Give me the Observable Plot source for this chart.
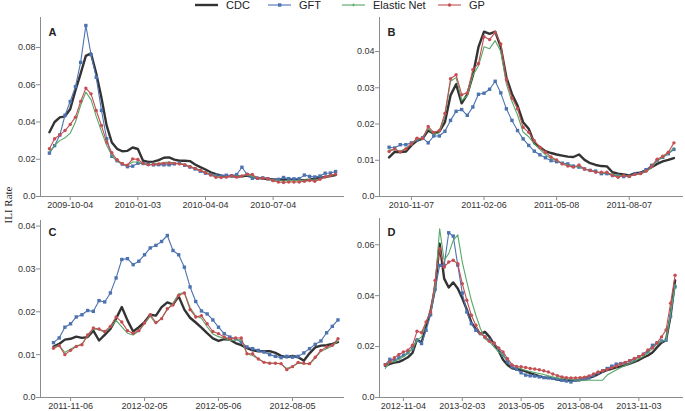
<!DOCTYPE html>
<html>
<head>
<meta charset="utf-8">
<script src="https://cdn.jsdelivr.net/npm/d3@7"></script>
<script src="https://cdn.jsdelivr.net/npm/@observablehq/plot@0.6"></script>
<style>
  body { margin: 0; background: #fff; }
  #wrap { position: relative; width: 685px; height: 411px; overflow: hidden; font-family: "Liberation Sans", Arial, sans-serif; }
  .panel { position: absolute; }
  .legitem { position: absolute; top: -1px; height: 12px; display: flex; align-items: center; font-size: 11px; color: #222; white-space: nowrap; }
  .legitem svg { margin-right: 8px; }
  #ylab { position: absolute; left: 8px; top: 205px; transform: translate(-50%, -50%) rotate(-90deg); font: 11px "Liberation Serif", serif; color: #222; white-space: nowrap; }
</style>
</head>
<body>
<div id="wrap"></div>
<script>
// series names / colours
const seriesNames = ["CDC", "GFT", "Elastic Net", "GP"];
const seriesColors = ["#333333", "#4C72B0", "#55A868", "#C44E52"];

// Panel A : 2009-09-06 weekly
const startA = "2009-09-06";
const cdcA = [0.0345,0.040,0.0425,0.043,0.047,0.057,0.066,0.0755,0.0768,0.066,
  0.053,0.038,0.029,0.0256,0.0243,0.0245,0.0263,0.0255,0.0192,0.0186,
  0.0187,0.0195,0.0208,0.021,0.0198,0.0192,0.0192,0.019,0.0172,0.0158,
  0.0145,0.013,0.012,0.0112,0.011,0.0108,0.0107,0.0108,0.0112,0.0104,
  0.0100,0.0097,0.0094,0.0092,0.0090,0.0090,0.0090,0.0090,0.0089,0.0088,
  0.0090,0.0095,0.0100,0.0105,0.0110,0.0115];
const gftA = [0.0233,0.0273,0.033,0.0437,0.051,0.059,0.072,0.0918,0.0762,0.064,
  0.0462,0.031,0.0216,0.0192,0.0174,0.0160,0.0163,0.0179,0.0177,0.0173,
  0.0170,0.0171,0.0170,0.0170,0.0175,0.0180,0.0168,0.0158,0.0148,0.0136,
  0.0125,0.0118,0.0113,0.0110,0.0114,0.0112,0.0118,0.0157,0.0118,0.0098,
  0.0098,0.0100,0.0095,0.0087,0.0092,0.0102,0.0096,0.0095,0.0096,0.0115,
  0.0108,0.0105,0.0110,0.0125,0.0126,0.0134];
const enA = [0.024,0.0275,0.030,0.0315,0.034,0.040,0.049,0.056,0.052,0.043,
  0.035,0.0275,0.022,0.019,0.0172,0.0168,0.0185,0.0185,0.0175,0.017,
  0.0175,0.0178,0.0182,0.0185,0.018,0.0178,0.0172,0.0162,0.0152,0.0142,
  0.013,0.0118,0.0108,0.0105,0.0106,0.011,0.0108,0.0112,0.0118,0.0108,
  0.0098,0.0098,0.0095,0.0088,0.0085,0.0083,0.0085,0.0085,0.0085,0.0088,
  0.009,0.0088,0.0095,0.0105,0.0112,0.012];
const gpA = [0.0256,0.031,0.0331,0.0354,0.0387,0.0426,0.051,0.0582,0.0551,0.0462,
  0.0381,0.0292,0.0235,0.0197,0.0176,0.0168,0.0202,0.0199,0.0178,0.017,
  0.0172,0.0175,0.0178,0.018,0.0178,0.0175,0.017,0.016,0.015,0.014,
  0.0128,0.0115,0.0103,0.0102,0.0104,0.0112,0.0104,0.011,0.012,0.0118,
  0.0098,0.0098,0.0095,0.0085,0.0078,0.0075,0.0078,0.0078,0.0078,0.0082,
  0.0086,0.0082,0.0092,0.0105,0.0113,0.012];

// Panel B : 2010-10-10 weekly
const startB = "2010-10-10";
const cdcB = [0.0108,0.0123,0.0123,0.0124,0.0141,0.0154,0.016,0.0182,0.0173,0.0179,
  0.0205,0.0279,0.031,0.0257,0.0282,0.0334,0.0412,0.0455,0.0449,0.0455,
  0.0412,0.0329,0.0283,0.0251,0.0205,0.0187,0.0147,0.0136,0.0125,0.012,
  0.0116,0.0113,0.011,0.0109,0.0116,0.0101,0.0092,0.0087,0.0084,0.0083,
  0.0067,0.0063,0.0061,0.0058,0.0064,0.0066,0.0072,0.0081,0.009,0.0097,
  0.0101,0.0106];
const gftB = [0.0136,0.0134,0.0143,0.0143,0.0148,0.0157,0.0162,0.0148,0.0167,0.0167,
  0.018,0.021,0.0235,0.024,0.0224,0.0247,0.0282,0.0285,0.0296,0.0318,
  0.0286,0.0242,0.021,0.0182,0.0159,0.0141,0.0125,0.0115,0.0107,0.0099,
  0.0096,0.0092,0.009,0.0084,0.0081,0.0076,0.0072,0.007,0.0063,0.0063,
  0.0058,0.0058,0.0055,0.0056,0.0063,0.0064,0.0074,0.0086,0.0099,0.0108,
  0.0118,0.013];
const enB = [0.0128,0.013,0.0125,0.0133,0.0145,0.0158,0.016,0.0188,0.0172,0.0176,
  0.0222,0.0318,0.0328,0.0265,0.0278,0.0335,0.036,0.0413,0.0408,0.043,
  0.040,0.031,0.0262,0.0225,0.0178,0.0165,0.0145,0.013,0.0115,0.0105,
  0.0099,0.0092,0.0087,0.0082,0.0082,0.0076,0.0072,0.0068,0.0065,0.0065,
  0.0062,0.0058,0.0058,0.0056,0.006,0.0062,0.0068,0.008,0.0098,0.0108,
  0.0118,0.0135];
const gpB = [0.0124,0.0131,0.0123,0.0131,0.0145,0.0161,0.016,0.0193,0.0177,0.0182,
  0.0229,0.0325,0.0336,0.0281,0.0286,0.035,0.0367,0.0441,0.0433,0.0453,
  0.0421,0.0322,0.0272,0.0242,0.0191,0.0177,0.0154,0.0136,0.0122,0.0109,
  0.0101,0.009,0.0084,0.0081,0.0087,0.0076,0.0072,0.0067,0.0067,0.0067,
  0.0058,0.0053,0.0058,0.0055,0.0061,0.0063,0.007,0.0083,0.0103,0.0111,
  0.0122,0.0148];

// Panel C : 2011-10-16 weekly
const startC = "2011-10-16";
const cdcC = [0.0119,0.0125,0.0135,0.0137,0.0142,0.0139,0.0141,0.0156,0.0133,0.0146,
  0.016,0.0184,0.0211,0.018,0.0154,0.0164,0.0176,0.0193,0.0191,0.0211,
  0.0222,0.0217,0.0236,0.0205,0.0186,0.0175,0.0163,0.015,0.0138,0.0132,
  0.0136,0.0135,0.0127,0.0122,0.0115,0.011,0.0108,0.0108,0.0108,0.0104,
  0.0097,0.0094,0.0097,0.0094,0.0086,0.0103,0.0117,0.0121,0.0122,0.0125,
  0.0129];
const gftC = [0.0128,0.0139,0.0164,0.0172,0.0188,0.0193,0.0203,0.0201,0.0226,0.0223,
  0.0244,0.0279,0.0322,0.0324,0.031,0.0318,0.0333,0.0349,0.0355,0.0364,
  0.0378,0.0343,0.0333,0.0304,0.0258,0.0224,0.0202,0.0195,0.0181,0.0164,
  0.0149,0.0141,0.0137,0.0129,0.0118,0.0114,0.011,0.0106,0.01,0.0096,
  0.0093,0.0096,0.0094,0.0096,0.0104,0.0114,0.0124,0.0132,0.0151,0.0166,
  0.0181];
const enC = [0.0117,0.0122,0.0105,0.0113,0.012,0.0125,0.0143,0.016,0.0158,0.0152,
  0.0163,0.018,0.0165,0.015,0.0146,0.0155,0.0172,0.019,0.0172,0.0185,
  0.0205,0.022,0.0242,0.0245,0.021,0.019,0.0185,0.0165,0.0148,0.0142,
  0.0138,0.0133,0.0134,0.0135,0.0102,0.0098,0.009,0.0083,0.008,0.008,
  0.0078,0.0068,0.0072,0.008,0.0079,0.0078,0.0092,0.0108,0.0114,0.012,
  0.0132];
const gpC = [0.0115,0.0121,0.01,0.011,0.0119,0.0123,0.0146,0.0162,0.016,0.0154,
  0.0166,0.0188,0.0176,0.0156,0.015,0.0156,0.0174,0.0193,0.0175,0.0184,
  0.0207,0.0216,0.0238,0.0244,0.0205,0.0188,0.0191,0.0172,0.0154,0.0149,
  0.0141,0.0137,0.0139,0.0139,0.0102,0.0102,0.009,0.0082,0.008,0.008,
  0.0079,0.0065,0.0072,0.0082,0.008,0.0079,0.0094,0.011,0.0118,0.0122,
  0.0137];

// Panel D : 2012-10-07 weekly
const startD = "2012-10-07";
const cdcD = [0.0124,0.0132,0.0137,0.014,0.0148,0.0158,0.0175,0.0228,0.0215,0.028,
  0.034,0.043,0.0604,0.0467,0.0432,0.0452,0.0428,0.039,0.0345,0.0295,
  0.0268,0.025,0.0258,0.0238,0.021,0.0185,0.0148,0.0128,0.0115,0.0112,
  0.0109,0.0103,0.0096,0.009,0.0084,0.0079,0.0077,0.0075,0.007,0.0068,
  0.0068,0.0068,0.0068,0.0068,0.0072,0.0077,0.0083,0.0092,0.0101,0.0108,
  0.0113,0.0118,0.0122,0.0127,0.0133,0.014,0.0147,0.0157,0.0165,0.0177,
  0.0197,0.0215,0.0225,0.032,0.046];
const gftD = [0.0129,0.015,0.0146,0.0156,0.0166,0.0176,0.0192,0.0225,0.0212,0.0264,
  0.0325,0.0425,0.0519,0.0519,0.0647,0.0634,0.052,0.041,0.0336,0.029,
  0.0264,0.0251,0.0238,0.0225,0.0212,0.0192,0.0166,0.014,0.012,0.0111,
  0.0097,0.0088,0.0085,0.0084,0.0081,0.0078,0.0077,0.0075,0.0072,0.0068,
  0.0065,0.0061,0.0068,0.0071,0.0073,0.0077,0.0088,0.0097,0.0105,0.0114,
  0.0123,0.0131,0.0133,0.0136,0.0144,0.0149,0.016,0.017,0.018,0.0205,
  0.0214,0.0222,0.0225,0.0319,0.0435];
const enD = [0.0114,0.014,0.014,0.015,0.016,0.0173,0.0192,0.0225,0.0238,0.0297,
  0.0336,0.044,0.0663,0.0539,0.0565,0.0617,0.0639,0.0532,0.0454,0.0382,
  0.0323,0.0271,0.0231,0.0218,0.0199,0.0179,0.0166,0.015,0.013,0.012,
  0.0112,0.0106,0.0102,0.0098,0.0094,0.009,0.0085,0.008,0.0077,0.0075,
  0.0073,0.0072,0.007,0.0068,0.0068,0.0068,0.0068,0.0068,0.0068,0.0088,
  0.0098,0.0108,0.0118,0.0126,0.0134,0.0142,0.0152,0.0162,0.0175,0.0192,
  0.021,0.0222,0.0225,0.033,0.0445];
const gpD = [0.0129,0.014,0.0156,0.0169,0.0179,0.0186,0.0205,0.026,0.0255,0.0297,
  0.0336,0.046,0.0584,0.0512,0.0532,0.0539,0.0525,0.0447,0.0382,0.0323,
  0.0284,0.0251,0.0238,0.0221,0.0214,0.0195,0.0179,0.0152,0.0128,0.0122,
  0.0121,0.0118,0.0114,0.0112,0.0109,0.0105,0.01,0.0092,0.0086,0.0081,
  0.0078,0.0077,0.0077,0.0078,0.008,0.0085,0.0092,0.01,0.0105,0.011,
  0.0117,0.0124,0.0132,0.0138,0.0145,0.0153,0.016,0.017,0.0187,0.0195,
  0.0215,0.0238,0.0265,0.037,0.048];

// tick labels
const ticksA = ["2009-10-04", "2010-01-03", "2010-04-04", "2010-07-04"];
const ticksB = ["2010-11-07", "2011-02-06", "2011-05-08", "2011-08-07"];
const ticksC = ["2011-11-06", "2012-02-05", "2012-05-06", "2012-08-05"];
const ticksD = ["2012-11-04", "2013-02-03", "2013-05-05", "2013-08-04", "2013-11-03"];
const yTicksA = [0, 0.02, 0.04, 0.06, 0.08];
const yTicksB = [0, 0.01, 0.02, 0.03, 0.04];
const yTicksC = [0, 0.01, 0.02, 0.03, 0.04];
const yTicksD = [0, 0.02, 0.04, 0.06];

const parse = d3.utcParse("%Y-%m-%d");
const fmtDate = d3.utcFormat("%Y-%m-%d");
const fmtY = d => d === 0 ? "0.0" : String(d);

const panels = [
  {label: "A", start: startA, data: [cdcA, gftA, enA, gpA], ticks: ticksA, yTicks: yTicksA, ymax: 0.0961,
   xdom: ["2009-08-25", "2010-10-08"], left: 0, top: 0, h: 212, ml: 40, mr: 1, mt: 17, mb: 16, dy: 15},
  {label: "B", start: startB, data: [cdcB, gftB, enB, gpB], ticks: ticksB, yTicks: yTicksB, ymax: 0.0494,
   xdom: ["2010-09-28", "2011-10-14"], left: 340, top: 0, h: 212, ml: 39, mr: 2, mt: 17, mb: 16, dy: 15},
  {label: "C", start: startC, data: [cdcC, gftC, enC, gpC], ticks: ticksC, yTicks: yTicksC, ymax: 0.0413,
   xdom: ["2011-09-30", "2012-10-08"], left: 0, top: 212, h: 199, ml: 40, mr: 1, mt: 8, mb: 14, dy: 12},
  {label: "D", start: startD, data: [cdcD, gftD, enD, gpD], ticks: ticksD, yTicks: yTicksD, ymax: 0.0703,
   xdom: ["2012-09-28", "2014-01-11"], left: 340, top: 212, h: 199, ml: 39, mr: 2, mt: 6, mb: 14, dy: 14}
];

const wrap = d3.select("#wrap");
const axisGray = "#8c8c8c";

panels.forEach(p => {
  const t0 = parse(p.start);
  const rows = p.data.map(arr => arr.map((v, i) => ({date: d3.utcDay.offset(t0, 7 * i), value: v})));
  const [cdc, gft, en, gp] = rows;
  const x0 = parse(p.xdom[0]);
  const chart = Plot.plot({
    width: 345,
    height: p.h,
    marginLeft: p.ml, marginRight: p.mr, marginTop: p.mt, marginBottom: p.mb,
    style: {background: "transparent", fontFamily: "'Liberation Sans', Arial, sans-serif", fontSize: "9px", overflow: "visible"},
    x: {type: "utc", domain: [x0, parse(p.xdom[1])]},
    y: {domain: [0, p.ymax]},
    marks: [
      Plot.axisX({ticks: p.ticks.map(parse), tickFormat: fmtDate, tickSize: 4, tickPadding: 1, stroke: axisGray, fill: "#333", label: null}),
      Plot.axisY({ticks: p.yTicks, tickFormat: fmtY, tickSize: 4, tickPadding: 1, stroke: axisGray, fill: "#333", label: null}),
      Plot.ruleX([x0], {stroke: axisGray}),
      Plot.ruleY([0], {stroke: axisGray}),
      Plot.line(cdc, {x: "date", y: "value", stroke: seriesColors[0], strokeWidth: 2.4, strokeLinejoin: "round"}),
      Plot.line(gft, {x: "date", y: "value", stroke: seriesColors[1], strokeWidth: 1.1}),
      Plot.dot(gft, {x: "date", y: "value", symbol: "square", r: 1.9, fill: seriesColors[1], stroke: "none"}),
      Plot.line(en, {x: "date", y: "value", stroke: seriesColors[2], strokeWidth: 1.1}),
      Plot.line(gp, {x: "date", y: "value", stroke: seriesColors[3], strokeWidth: 1.1}),
      Plot.dot(gp, {x: "date", y: "value", r: 1.7, fill: seriesColors[3], stroke: "none"}),
      Plot.text([p.label], {frameAnchor: "top-left", dx: 8, dy: p.dy, lineAnchor: "middle", textAnchor: "start",
        fontWeight: "bold", fontSize: 11, fill: "#222"})
    ]
  });
  wrap.append("div").attr("class", "panel")
    .style("left", p.left + "px").style("top", p.top + "px")
    .append(() => chart);
});

// legend
const legendX = [195, 268, 342, 438];
seriesNames.forEach((name, k) => {
  const item = wrap.append("div").attr("class", "legitem").style("left", legendX[k] + "px");
  const s = item.append("svg").attr("width", 23).attr("height", 12);
  s.append("line").attr("x1", 0).attr("x2", 23).attr("y1", 6).attr("y2", 6)
    .attr("stroke", seriesColors[k]).attr("stroke-width", k === 0 ? 2.4 : 1.1);
  if (k === 1) s.append("rect").attr("x", 10).attr("y", 4.3).attr("width", 3.4).attr("height", 3.4).attr("fill", seriesColors[k]);
  if (k === 2) s.append("path").attr("d", "M11.5,4.5V7.5M10,6H13").attr("stroke", seriesColors[k]).attr("stroke-width", 0.8);
  if (k === 3) s.append("circle").attr("cx", 11.5).attr("cy", 6).attr("r", 1.7).attr("fill", seriesColors[k]);
  item.append("span").text(name);
});

wrap.append("div").attr("id", "ylab").text("ILI Rate");
</script>
</body>
</html>
